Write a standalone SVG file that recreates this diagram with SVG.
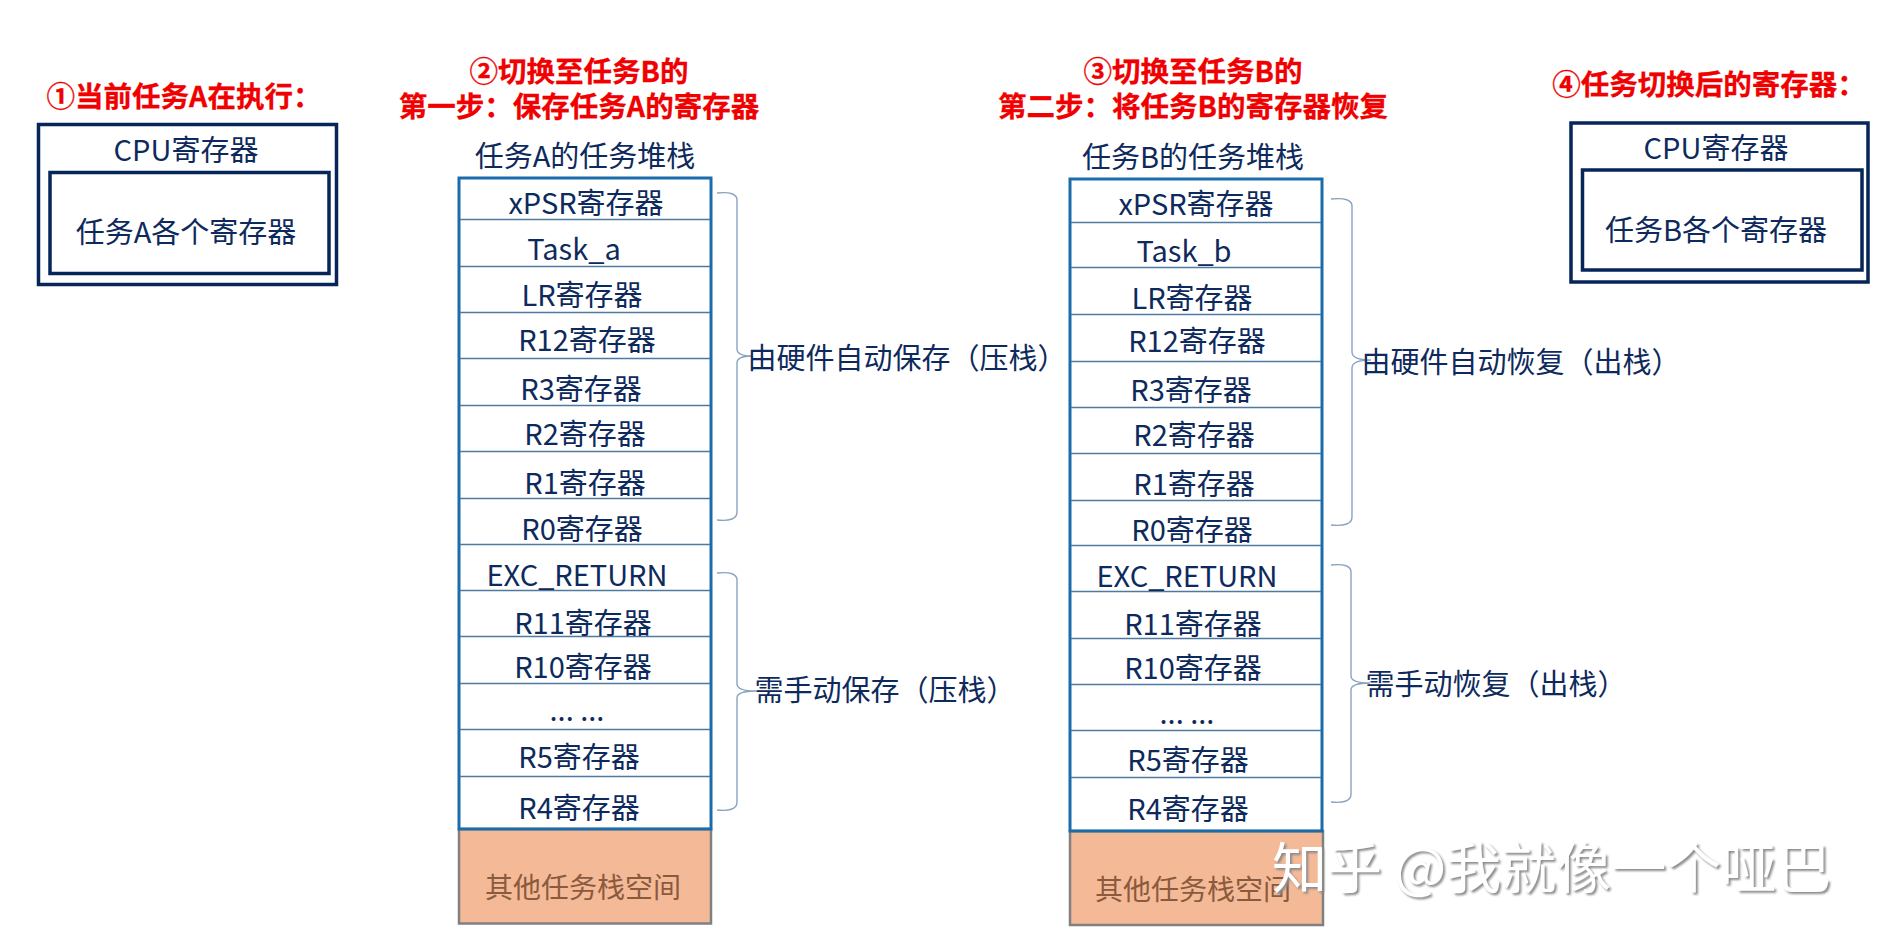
<svg xmlns="http://www.w3.org/2000/svg" width="1886" height="941" viewBox="0 0 1886 941">
<style>
text{font-family:"Noto Sans CJK SC","Noto Sans",sans-serif;fill:#0e2a5c;font-size:29px;text-anchor:middle;dominant-baseline:central}
.r{fill:#f00000;font-weight:700;font-size:28.5px;stroke:#f00000;stroke-width:.3}
.box{fill:#fff;stroke:#06265a;stroke-width:3.5}
.stk{fill:none;stroke:#1a6cab;stroke-width:3}
.ln{stroke:#4d7a9e;stroke-width:1.3;fill:none}
.or{fill:#f4b996;stroke:#808080;stroke-width:2.5}
.o{fill:#8a5a3e;font-size:28px}
.b{fill:none;stroke:#8aa4bf;stroke-width:1.4}
.wm{fill:#fff;font-size:55px;text-anchor:start;filter:drop-shadow(2px 2px 1px #8c8c8c)}
</style>
<rect width="1886" height="941" fill="#fff"/>
<g id="step1-title"><text class="r" x="184" y="94">①当前任务A在执行：</text></g>
<g id="step2-title"><text class="r" x="579" y="69">②切换至任务B的</text><text class="r" x="579" y="104">第一步：保存任务A的寄存器</text></g>
<g id="step3-title"><text class="r" x="1193" y="69">③切换至任务B的</text><text class="r" x="1193" y="104">第二步：将任务B的寄存器恢复</text></g>
<g id="step4-title"><text class="r" x="1709" y="82">④任务切换后的寄存器：</text></g>

<g id="cpu-a">
<rect class="box" x="38.5" y="124.5" width="298" height="160"/>
<rect class="box" x="50" y="172.5" width="279" height="101"/>
<text x="186" y="148">CPU寄存器</text>
<text x="186" y="230">任务A各个寄存器</text>
</g>
<g id="cpu-b">
<rect class="box" x="1571" y="123" width="297" height="159"/>
<rect class="box" x="1582.5" y="170" width="279.5" height="100"/>
<text x="1716" y="146">CPU寄存器</text>
<text x="1716" y="228">任务B各个寄存器</text>
</g>

<g id="stack-a">
<text x="585" y="154">任务A的任务堆栈</text>
<rect class="or" x="459" y="829" width="252" height="94.500"/>
<rect class="stk" x="459" y="178" width="252" height="651"/>
<path class="ln" d="M460 219.500H710M460 266.500H710M460 312.500H710M460 358.500H710M460 405.500H710M460 451.500H710M460 498.500H710M460 544.500H710M460 590.500H710M460 636.500H710M460 683.500H710M460 729.500H710M460 776.500H710"/>
<text x="586" y="201">xPSR寄存器</text>
<text x="574" y="247">Task_a</text>
<text x="582" y="293">LR寄存器</text>
<text x="587" y="338">R12寄存器</text>
<text x="581" y="387">R3寄存器</text>
<text x="585" y="432">R2寄存器</text>
<text x="585" y="481">R1寄存器</text>
<text x="582" y="527">R0寄存器</text>
<text x="577" y="573">EXC_RETURN</text>
<text x="583" y="621">R11寄存器</text>
<text x="583" y="665">R10寄存器</text>
<text x="577" y="708">... ...</text>
<text x="579" y="755">R5寄存器</text>
<text x="579" y="806">R4寄存器</text>
<text class="o" x="583" y="886">其他任务栈空间</text>
</g>

<g id="stack-b">
<text x="1193" y="155">任务B的任务堆栈</text>
<rect class="or" x="1070" y="831" width="253" height="94"/>
<rect class="stk" x="1070" y="179" width="252" height="652"/>
<path class="ln" d="M1071 222.500H1321M1071 267.500H1321M1071 314.500H1321M1071 361.500H1321M1071 407.500H1321M1071 453.500H1321M1071 500.500H1321M1071 545.500H1321M1071 591.500H1321M1071 638.500H1321M1071 684.500H1321M1071 730.500H1321M1071 777.500H1321"/>
<text x="1196" y="202">xPSR寄存器</text>
<text x="1184" y="249">Task_b</text>
<text x="1192" y="296">LR寄存器</text>
<text x="1197" y="339">R12寄存器</text>
<text x="1191" y="388">R3寄存器</text>
<text x="1194" y="433">R2寄存器</text>
<text x="1194" y="482">R1寄存器</text>
<text x="1192" y="528">R0寄存器</text>
<text x="1187" y="574">EXC_RETURN</text>
<text x="1193" y="622">R11寄存器</text>
<text x="1193" y="666">R10寄存器</text>
<text x="1187" y="711">... ...</text>
<text x="1188" y="758">R5寄存器</text>
<text x="1188" y="807">R4寄存器</text>
<text class="o" x="1193" y="888">其他任务栈空间</text>
</g>

<g id="connectors">
<path class="b" d="M717 193Q737 191 737 200V349Q737 356 752 356Q737 356 737 363V512Q737 522 717 520"/>
<path class="b" d="M717 573Q737 571 737 580V684Q737 691 756 691Q737 691 737 698V802Q737 812 717 810"/>
<path class="b" d="M1331 199Q1352 197 1352 206V352Q1352 360 1371 360Q1352 360 1352 368V517Q1352 527 1331 525"/>
<path class="b" d="M1331 565Q1351 563 1351 572V676Q1351 683 1370 683Q1351 683 1351 690V794Q1351 804 1331 802"/>
</g>

<g id="label-hw-save"><text x="907" y="356">由硬件自动保存（压栈）</text></g>
<g id="label-manual-save"><text x="885" y="688">需手动保存（压栈）</text></g>
<g id="label-hw-restore"><text x="1521" y="360">由硬件自动恢复（出栈）</text></g>
<g id="label-manual-restore"><text x="1496" y="682">需手动恢复（出栈）</text></g>

<g id="watermark"><text class="wm" x="1272" y="864">知乎 @我就像一个哑巴</text></g>
</svg>
